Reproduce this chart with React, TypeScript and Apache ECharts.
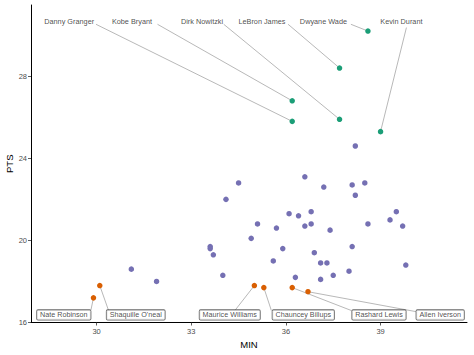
import React, { useEffect, useRef } from "react";
import * as echarts from "echarts";

// Highlighted top scorers (green)
const topNames = ["Dwyane Wade", "LeBron James", "Kobe Bryant", "Dirk Nowitzki", "Danny Granger", "Kevin Durant"];
const topMin = [38.6, 37.7, 36.2, 37.7, 36.2, 39.0];
const topPts = [30.2, 28.4, 26.8, 25.9, 25.8, 25.3];
const topLabelX = [37.19, 35.24, 31.12, 33.34, 29.13, 39.66];
const topLabelY = [30.65, 30.65, 30.65, 30.65, 30.65, 30.65];
const topSegX = [38.06, 36.07, 31.93, 34.03, 29.98, 39.82];
const topSegY = [30.53, 30.53, 30.53, 30.53, 30.53, 30.37];

// Highlighted low scorers (orange)
const lowNames = ["Maurice Williams", "Shaquille O'neal", "Rashard Lewis", "Chauncey Billups", "Allen Iverson", "Nate Robinson"];
const lowMin = [35.0, 30.1, 36.2, 35.3, 36.7, 29.9];
const lowPts = [17.8, 17.8, 17.7, 17.7, 17.5, 17.2];
const lowLabelX = [34.22, 31.24, 38.95, 36.55, 40.89, 28.96];
const lowLabelY = [16.37, 16.37, 16.37, 16.37, 16.37, 16.37];
const lowSegX = [34.38, 30.38, 38.08, 35.54, 40.12, 29.82];
const lowSegY = [16.58, 16.58, 16.58, 16.58, 16.53, 16.61];

// Other players (purple)
const otherMin = [38.2, 36.6, 38.5, 34.5, 38.1, 37.2, 38.2, 34.1, 36.8, 39.5, 36.1, 36.4, 39.3, 35.1, 38.6, 36.8, 39.7, 36.6, 35.7, 37.4, 34.9, 38.1, 33.6, 35.9, 33.6, 36.9, 33.7, 35.6, 37.3, 37.1, 39.8, 31.1, 38.0, 37.5, 34.0, 36.3, 37.1, 31.9];
const otherPts = [24.6, 23.1, 22.8, 22.8, 22.7, 22.6, 22.2, 22.0, 21.4, 21.4, 21.3, 21.2, 21.0, 20.8, 20.8, 20.8, 20.7, 20.7, 20.6, 20.5, 20.1, 19.7, 19.7, 19.6, 19.6, 19.4, 19.3, 19.0, 18.9, 18.9, 18.8, 18.6, 18.5, 18.3, 18.3, 18.2, 18.1, 18.0];

const xTicks = [30, 33, 36, 39];
const yTicks = [16, 20, 24, 28];

const FONT = "'Liberation Sans', Arial, Helvetica, sans-serif";

export default function App() {
  const ref = useRef<HTMLDivElement>(null);
  useEffect(() => {
    const chart = echarts.init(ref.current!, null, { renderer: "svg" });
    const pairs = (xs: number[], ys: number[]) => xs.map((x, i) => [x, ys[i]]);
    const segs = [
      ...topSegX.map((x, i) => ({ coords: [[x, topSegY[i]], [topMin[i], topPts[i]]] })),
      ...lowSegX.map((x, i) => ({ coords: [[x, lowSegY[i]], [lowMin[i], lowPts[i]]] })),
    ];
    chart.setOption({
      animation: false,
      grid: { left: 31, right: 7, top: 5, bottom: 32.5, containLabel: false, outerBoundsMode: "none" },
      xAxis: {
        type: "value",
        min: 27.92,
        max: 41.74,
        name: "MIN",
        nameLocation: "middle",
        nameGap: 17,
        nameMoveOverlap: false,
        nameTextStyle: { color: "#000", fontSize: 9.5, fontFamily: FONT },
        axisLine: { show: true, onZero: false, lineStyle: { color: "#000", width: 1 } },
        axisTick: { show: true, customValues: xTicks, length: 3, lineStyle: { color: "#333", width: 0.8 } },
        axisLabel: { customValues: xTicks, color: "#4d4d4d", fontSize: 7.5, margin: 5, fontFamily: FONT },
        splitLine: { show: false },
      },
      yAxis: {
        type: "value",
        min: 16,
        max: 31.47,
        name: "PTS",
        nameLocation: "middle",
        nameGap: 17,
        nameMoveOverlap: false,
        nameRotate: 90,
        nameTextStyle: { color: "#000", fontSize: 9.5, fontFamily: FONT },
        axisLine: { show: true, onZero: false, lineStyle: { color: "#000", width: 1 } },
        axisTick: { show: true, customValues: yTicks, length: 3, lineStyle: { color: "#333", width: 0.8 } },
        axisLabel: { customValues: yTicks, color: "#4d4d4d", fontSize: 7.5, margin: 4, fontFamily: FONT },
        splitLine: { show: false },
      },
      series: [
        {
          type: "scatter",
          data: pairs(otherMin, otherPts),
          symbolSize: 5.5,
          itemStyle: { color: "#7570B3", opacity: 1 },
          silent: true,
          z: 2,
        },
        {
          type: "lines",
          coordinateSystem: "cartesian2d",
          data: segs,
          lineStyle: { color: "#9a9a9a", width: 0.7, opacity: 1 },
          silent: true,
          z: 3,
        },
        {
          type: "scatter",
          data: pairs(topMin, topPts),
          symbolSize: 5.5,
          itemStyle: { color: "#1B9E77", opacity: 1 },
          silent: true,
          z: 4,
        },
        {
          type: "scatter",
          data: pairs(lowMin, lowPts),
          symbolSize: 5.5,
          itemStyle: { color: "#D95F02", opacity: 1 },
          silent: true,
          z: 4,
        },
        {
          type: "scatter",
          data: topLabelX.map((x, i) => ({ value: [x, topLabelY[i]], name: topNames[i] })),
          symbolSize: 1,
          itemStyle: { color: "rgba(0,0,0,0)" },
          silent: true,
          z: 5,
          label: {
            show: true,
            position: "inside",
            formatter: (p: any) => p.name,
            color: "#1a1a1a",
            fontSize: 7.3,
            fontFamily: FONT,
          },
        },
        {
          type: "scatter",
          data: lowLabelX.map((x, i) => ({ value: [x, lowLabelY[i]], name: lowNames[i] })),
          symbolSize: 1,
          itemStyle: { color: "rgba(0,0,0,0)" },
          silent: true,
          z: 5,
          label: {
            show: true,
            position: "inside",
            formatter: (p: any) => p.name,
            color: "#1a1a1a",
            fontSize: 7.2,
            fontFamily: FONT,
            lineHeight: 7.5,
            backgroundColor: "#fff",
            borderColor: "#444",
            borderWidth: 0.8,
            borderRadius: 1,
            padding: [1, 3],
          },
        },
      ],
    });
    return () => chart.dispose();
  }, []);
  return <div ref={ref} style={{ position: "absolute", left: 0, top: 0, width: 474, height: 355 }} />;
}
